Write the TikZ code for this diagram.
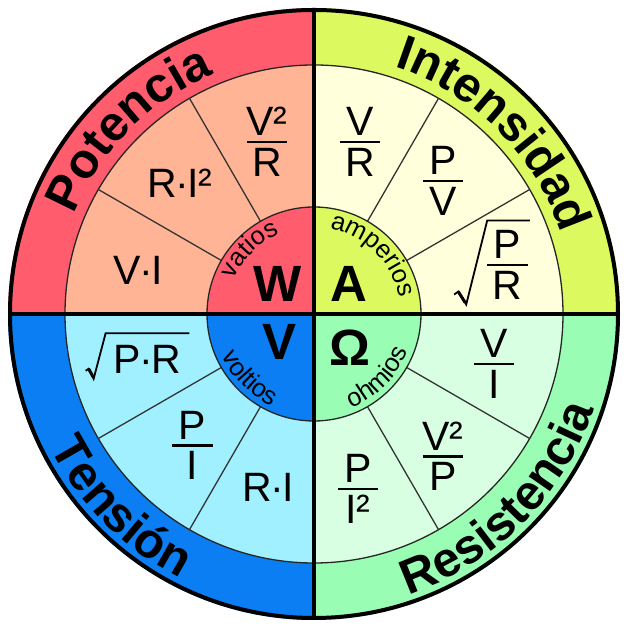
\documentclass[tikz,border=0pt]{standalone}
\usepackage{fontspec}
\setmainfont{Liberation Sans}
\usetikzlibrary{decorations.text}
\definecolor{redO}{HTML}{FF5D6E}
\definecolor{redI}{HTML}{FFB496}
\definecolor{ylwO}{HTML}{DCFA5F}
\definecolor{ylwI}{HTML}{FFFFDC}
\definecolor{bluO}{HTML}{0A7EF2}
\definecolor{bluI}{HTML}{A0F0FF}
\definecolor{grnO}{HTML}{9AFDB4}
\definecolor{grnI}{HTML}{D8FFE2}
\newcommand\outf{\fontsize{49}{55}\selectfont\bfseries}
\newcommand\unitf{\fontsize{25.5}{28}\selectfont}
\newcommand\bigf{\fontsize{51}{58}\selectfont\bfseries}
\newcommand\frmf{\fontsize{41}{46}\selectfont}
\newcommand\frc[2]{\vbox{\offinterlineskip\halign{\hfil##\hfil\cr #1\cr\noalign{\kern0.12em}\rule{0.98em}{0.06em}\cr\noalign{\kern0.12em}#2\cr}}}
\newcommand\mdot{\kern-0.04em·\kern-0.04em}
\begin{document}
\begin{tikzpicture}[x=1pt,y=1pt,
  divider/.style={draw=black!80,line width=1.3},
  ringline/.style={draw=black!85,line width=1.3},
  heavy/.style={draw=black,line width=4},
  frm/.style={inner sep=0pt,font=\frmf},
  bigl/.style={inner sep=0pt,font=\bigf},
  radic/.style={draw=black,line width=1.8,line join=miter}]
\useasboundingbox (0,0) rectangle (630,628);
\coordinate (C) at (314,314);
% sectors
\foreach \a/\co/\ci in {90/redO/redI,0/ylwO/ylwI,180/bluO/bluI,270/grnO/grnI}{
  \fill[\co] (C) -- ([shift={(\a:306)}]C) arc[start angle=\a,delta angle=90,radius=306] -- cycle;
  \fill[\ci] (C) -- ([shift={(\a:249)}]C) arc[start angle=\a,delta angle=90,radius=249] -- cycle;
}
\draw[ringline] (C) circle[radius=249];
\foreach \a in {30,60,120,150,210,240,300,330}
  \draw[divider] ([shift={(\a:107)}]C) -- ([shift={(\a:249)}]C);
\foreach \a/\co in {90/redO,0/ylwO,180/bluO,270/grnO}
  \fill[\co] (C) -- ([shift={(\a:107)}]C) arc[start angle=\a,delta angle=90,radius=107] -- cycle;
\draw[ringline] (C) circle[radius=107];
\draw[heavy] ([shift={(180:306)}]C) -- ([shift={(0:306)}]C);
\draw[heavy] ([shift={(90:306)}]C) -- ([shift={(270:306)}]C);
\draw[heavy] (C) circle[radius=304];
% outer labels
\path[decorate,decoration={text along path,text={|\outf|Potencia},text align=center}]
  ([shift={(180:260)}]C) arc[start angle=180,end angle=90,radius=260];
\path[decorate,decoration={text along path,text={|\outf|Intensidad},text align=center}]
  ([shift={(90:260)}]C) arc[start angle=90,end angle=0,radius=260];
\path[decorate,decoration={text along path,text={|\outf|Tensión},text align=center}]
  ([shift={(180:296)}]C) arc[start angle=180,end angle=270,radius=296];
\path[decorate,decoration={text along path,text={|\outf|Resistencia},text align=center}]
  ([shift={(270:296)}]C) arc[start angle=270,end angle=360,radius=296];
% unit labels
\path[decorate,decoration={text along path,text={|\unitf|vatios},text align=center}]
  ([shift={(180:87)}]C) arc[start angle=180,end angle=90,radius=87];
\path[decorate,decoration={text along path,text={|\unitf|amperios},text align=center}]
  ([shift={(90:87)}]C) arc[start angle=90,end angle=0,radius=87];
\path[decorate,decoration={text along path,text={|\unitf|voltios},text align=center}]
  ([shift={(180:101)}]C) arc[start angle=180,end angle=270,radius=101];
\path[decorate,decoration={text along path,text={|\unitf|ohmios},text align=center}]
  ([shift={(270:101)}]C) arc[start angle=270,end angle=360,radius=101];
% center letters
\node[bigl] (W) at (277.5,344.5) {W};
\node[bigl] (A) at (349,344.5) {A};
\node[bigl] (V) at (280,286.5) {V};
\node[bigl] (O) at (350,280.5) {Ω};
% Potencia formulas
\node[frm] (p1) at (267,486) {\frc{V²}{R}};
\node[frm] (p2) at (180,445) {R\mdot I²};
\node[frm] (p3) at (138,358) {V\mdot I};
% Intensidad formulas
\node[frm] (i1) at (360,486) {\frc{V}{R}};
\node[frm] (i2) at (443,447) {\frc{P}{V}};
\node[frm] (i3) at (507.5,363) {\frc{P}{R}};
\draw[radic] ([shift={(-33,5)}]i3.south west) -- ([shift={(-29,8)}]i3.south west)
  -- ([shift={(-21,-5)}]i3.south west) -- ([shift={(0,10)}]i3.north west) -- ([shift={(2,10)}]i3.north east);
\draw[draw=black,line width=3] ([shift={(-29,8)}]i3.south west) -- ([shift={(-22,-3)}]i3.south west);
% Tension formulas
\node[frm] (t1) at (147.5,268.5) {P\mdot R};
\draw[radic] ([shift={(-28,3)}]t1.south west) -- ([shift={(-25,5)}]t1.south west)
  -- ([shift={(-20,-5)}]t1.south west) -- ([shift={(-8,12)}]t1.north west) -- ([shift={(8,12)}]t1.north east);
\draw[draw=black,line width=3] ([shift={(-25,5)}]t1.south west) -- ([shift={(-20.5,-3)}]t1.south west);
\node[frm] (t2) at (192.5,182.5) {\frc{P}{I}};
\node[frm] (t3) at (268,140.5) {R\mdot I};
% Resistencia formulas
\node[frm] (r1) at (494,264) {\frc{V}{I}};
\node[frm] (r2) at (443,171.5) {\frc{V²}{P}};
\node[frm] (r3) at (358,139) {\frc{P}{I²}};
\end{tikzpicture}
\end{document}
